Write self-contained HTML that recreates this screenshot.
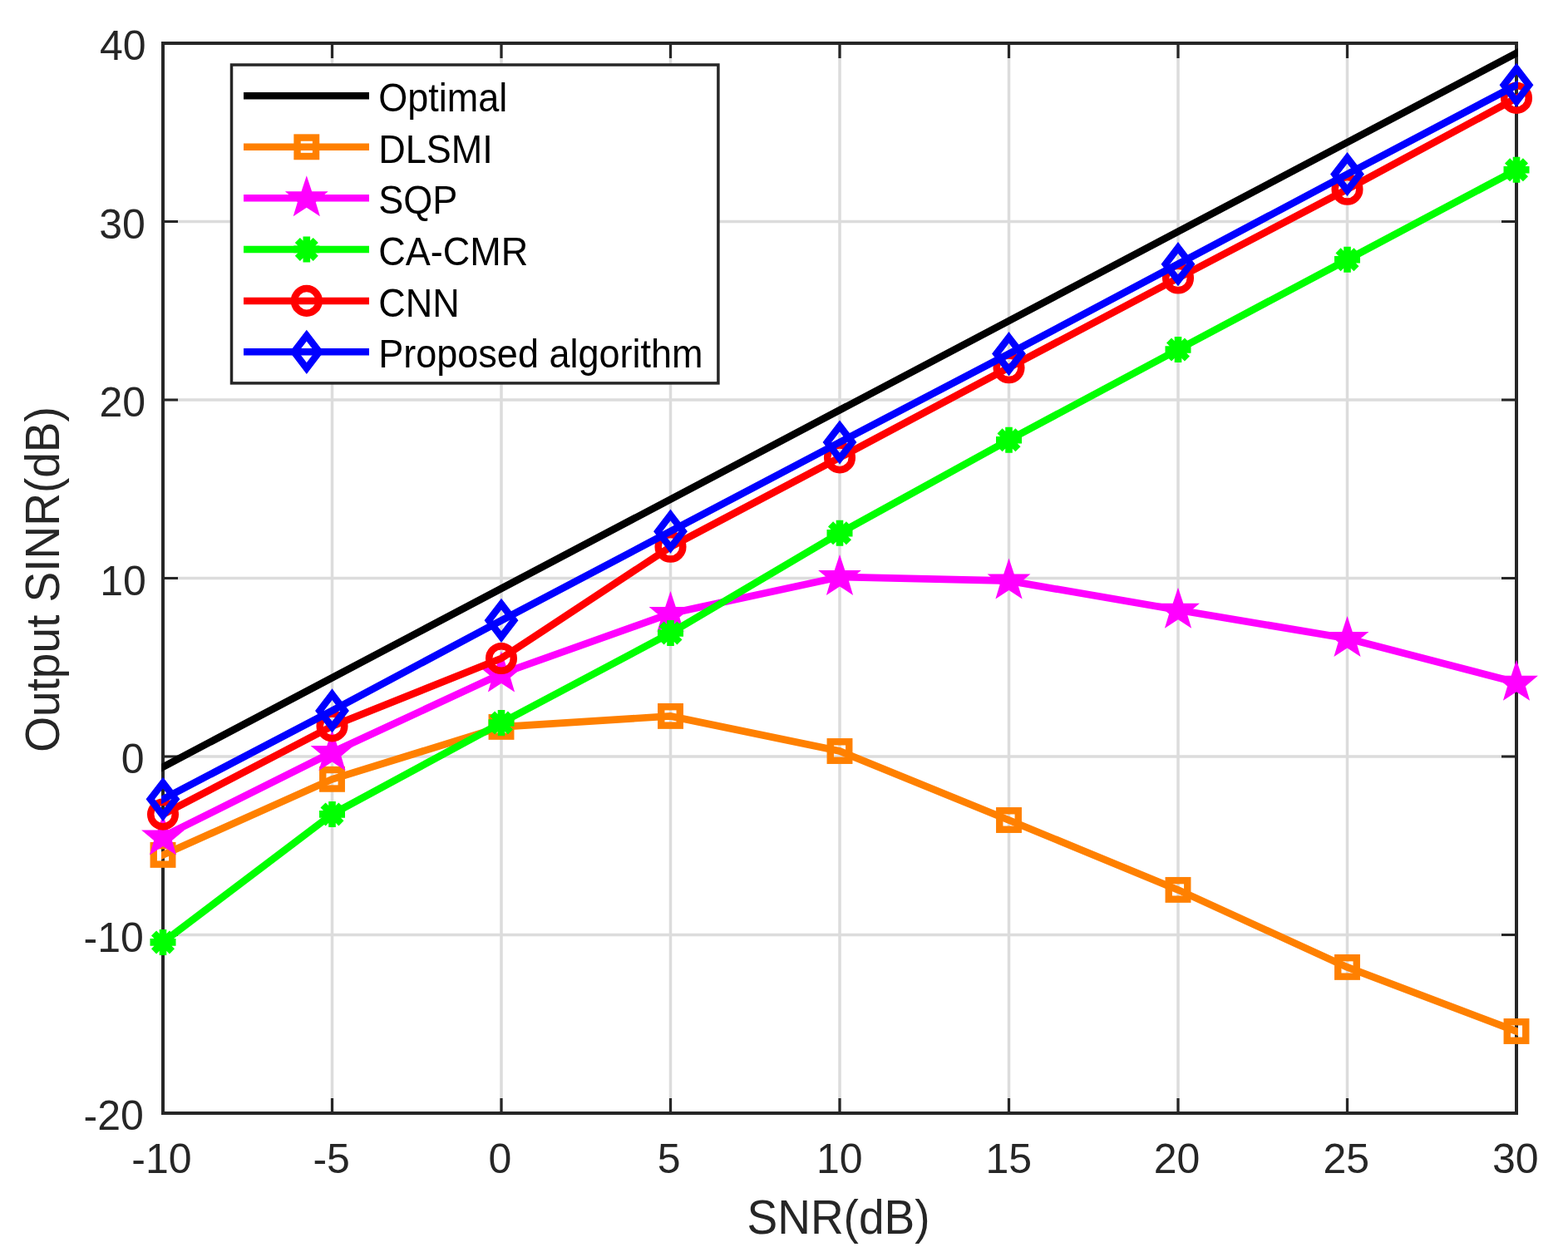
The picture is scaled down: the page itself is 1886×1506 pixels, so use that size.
<!DOCTYPE html><html><head><meta charset="utf-8"><title>Output SINR vs SNR</title><style>html,body{margin:0;padding:0;background:#fff;overflow:hidden;width:1886px;height:1506px;}svg{display:block;}text{font-family:"Liberation Sans",Arial,Helvetica,sans-serif;fill:#262626;}</style></head><body>
<svg width="1886" height="1506" viewBox="0 0 1886 1506">
<rect width="1886" height="1506" fill="#fff"/>
<defs><clipPath id="ax"><rect x="194" y="50" width="1632" height="1291"/></clipPath></defs>
<path d="M399.5 52V1339M603 52V1339M806.5 52V1339M1010 52V1339M1213.5 52V1339M1417 52V1339M1620.5 52V1339M196 1124.5H1824M196 910H1824M196 695.5H1824M196 481H1824M196 266.5H1824" stroke="#dcdcdc" stroke-width="3.5" fill="none"/>
<path d="M399.5 1339V1321M399.5 52V70M603 1339V1321M603 52V70M806.5 1339V1321M806.5 52V70M1010 1339V1321M1010 52V70M1213.5 1339V1321M1213.5 52V70M1417 1339V1321M1417 52V70M1620.5 1339V1321M1620.5 52V70M196 1124.5H214M1824 1124.5H1806M196 910H214M1824 910H1806M196 695.5H214M1824 695.5H1806M196 481H214M1824 481H1806M196 266.5H214M1824 266.5H1806" stroke="#262626" stroke-width="3.2" fill="none"/>
<rect x="196" y="52" width="1628" height="1287" fill="none" stroke="#262626" stroke-width="4"/>
<text x="194.4" y="1411.3" font-size="50" text-anchor="middle">-10</text>
<text x="398.7" y="1411.3" font-size="50" text-anchor="middle">-5</text>
<text x="601.35" y="1411.3" font-size="50" text-anchor="middle">0</text>
<text x="804.65" y="1411.3" font-size="50" text-anchor="middle">5</text>
<text x="1009.8" y="1411.3" font-size="50" text-anchor="middle">10</text>
<text x="1213.2" y="1411.3" font-size="50" text-anchor="middle">15</text>
<text x="1415.5" y="1411.3" font-size="50" text-anchor="middle">20</text>
<text x="1619.35" y="1411.3" font-size="50" text-anchor="middle">25</text>
<text x="1822.75" y="1411.3" font-size="50" text-anchor="middle">30</text>
<text x="172.85" y="1359.4" font-size="50" text-anchor="end">-20</text>
<text x="172.85" y="1144.9" font-size="50" text-anchor="end">-10</text>
<text x="173.5" y="930.4" font-size="50" text-anchor="end">0</text>
<text x="175.9" y="715.9" font-size="50" text-anchor="end">10</text>
<text x="175.2" y="501.4" font-size="50" text-anchor="end">20</text>
<text x="174.95" y="286.9" font-size="50" text-anchor="end">30</text>
<text x="175.55" y="72.4" font-size="50" text-anchor="end">40</text>
<text transform="translate(1008.5 1484) scale(1 1.04)" font-size="55" text-anchor="middle">SNR(dB)</text>
<text transform="translate(71 697) rotate(-90) scale(1 1.04)" font-size="55" text-anchor="middle">Output SINR(dB)</text>
<g clip-path="url(#ax)">
<line x1="196" y1="922.6" x2="1824" y2="63.9" stroke="#000" stroke-width="8.7" stroke-linecap="square"/>
</g>
<g clip-path="url(#ax)"><polyline points="196,1028.4 399.5,937.3 603,874.4 806.5,861.4 1010,903.5 1213.5,986.5 1417,1070.4 1620.5,1163.4 1824,1240.5" fill="none" stroke="#ff8000" stroke-width="8.7" stroke-linejoin="miter" stroke-linecap="square"/></g>
<g><rect x="184.75" y="1017.15" width="22.5" height="22.5" fill="none" stroke="#ff8000" stroke-width="8.4"/><rect x="388.25" y="926.05" width="22.5" height="22.5" fill="none" stroke="#ff8000" stroke-width="8.4"/><rect x="591.75" y="863.15" width="22.5" height="22.5" fill="none" stroke="#ff8000" stroke-width="8.4"/><rect x="795.25" y="850.15" width="22.5" height="22.5" fill="none" stroke="#ff8000" stroke-width="8.4"/><rect x="998.75" y="892.25" width="22.5" height="22.5" fill="none" stroke="#ff8000" stroke-width="8.4"/><rect x="1202.25" y="975.25" width="22.5" height="22.5" fill="none" stroke="#ff8000" stroke-width="8.4"/><rect x="1405.75" y="1059.15" width="22.5" height="22.5" fill="none" stroke="#ff8000" stroke-width="8.4"/><rect x="1609.25" y="1152.15" width="22.5" height="22.5" fill="none" stroke="#ff8000" stroke-width="8.4"/><rect x="1812.75" y="1229.25" width="22.5" height="22.5" fill="none" stroke="#ff8000" stroke-width="8.4"/></g>
<g clip-path="url(#ax)"><polyline points="196,1006.5 399.5,905 603,810.5 806.5,738 1010,694 1213.5,698.7 1417,733.8 1620.5,768 1824,820.9" fill="none" stroke="#ff00ff" stroke-width="8.7" stroke-linejoin="miter" stroke-linecap="square"/></g>
<g><polygon points="196,979.4 202.3,998.4 221.9,998.4 206.9,1011.1 212.1,1028.4 196,1017.9 179.9,1028.4 185.1,1011.1 170.1,998.4 189.7,998.4" fill="#ff00ff"/><polygon points="399.5,877.9 405.8,896.9 425.4,896.9 410.4,909.6 415.6,926.9 399.5,916.4 383.4,926.9 388.6,909.6 373.6,896.9 393.2,896.9" fill="#ff00ff"/><polygon points="603,783.4 609.3,802.4 628.9,802.4 613.9,815.1 619.1,832.4 603,821.9 586.9,832.4 592.1,815.1 577.1,802.4 596.7,802.4" fill="#ff00ff"/><polygon points="806.5,710.9 812.8,729.9 832.4,729.9 817.4,742.6 822.6,759.9 806.5,749.4 790.4,759.9 795.6,742.6 780.6,729.9 800.2,729.9" fill="#ff00ff"/><polygon points="1010,666.9 1016.3,685.9 1035.9,685.9 1020.9,698.6 1026.1,715.9 1010,705.4 993.9,715.9 999.1,698.6 984.1,685.9 1003.7,685.9" fill="#ff00ff"/><polygon points="1213.5,671.6 1219.8,690.6 1239.4,690.6 1224.4,703.3 1229.6,720.6 1213.5,710.1 1197.4,720.6 1202.6,703.3 1187.6,690.6 1207.2,690.6" fill="#ff00ff"/><polygon points="1417,706.7 1423.3,725.7 1442.9,725.7 1427.9,738.4 1433.1,755.7 1417,745.2 1400.9,755.7 1406.1,738.4 1391.1,725.7 1410.7,725.7" fill="#ff00ff"/><polygon points="1620.5,740.9 1626.8,759.9 1646.4,759.9 1631.4,772.6 1636.6,789.9 1620.5,779.4 1604.4,789.9 1609.6,772.6 1594.6,759.9 1614.2,759.9" fill="#ff00ff"/><polygon points="1824,793.8 1830.3,812.8 1849.9,812.8 1834.9,825.5 1840.1,842.8 1824,832.3 1807.9,842.8 1813.1,825.5 1798.1,812.8 1817.7,812.8" fill="#ff00ff"/></g>
<g clip-path="url(#ax)"><polyline points="196,1133.4 399.5,979.4 603,869.5 806.5,761.5 1010,641.3 1213.5,529.3 1417,420.5 1620.5,312.3 1824,204.3" fill="none" stroke="#00ff00" stroke-width="8.7" stroke-linejoin="miter" stroke-linecap="square"/></g>
<g><path d="M180.5 1133.4L211.5 1133.4M185.04 1122.44L206.96 1144.36M196 1117.9L196 1148.9M206.96 1122.44L185.04 1144.36" stroke="#00ff00" stroke-width="8.6" fill="none"/><path d="M384 979.4L415 979.4M388.54 968.44L410.46 990.36M399.5 963.9L399.5 994.9M410.46 968.44L388.54 990.36" stroke="#00ff00" stroke-width="8.6" fill="none"/><path d="M587.5 869.5L618.5 869.5M592.04 858.54L613.96 880.46M603 854L603 885M613.96 858.54L592.04 880.46" stroke="#00ff00" stroke-width="8.6" fill="none"/><path d="M791 761.5L822 761.5M795.54 750.54L817.46 772.46M806.5 746L806.5 777M817.46 750.54L795.54 772.46" stroke="#00ff00" stroke-width="8.6" fill="none"/><path d="M994.5 641.3L1025.5 641.3M999.04 630.34L1020.96 652.26M1010 625.8L1010 656.8M1020.96 630.34L999.04 652.26" stroke="#00ff00" stroke-width="8.6" fill="none"/><path d="M1198 529.3L1229 529.3M1202.54 518.34L1224.46 540.26M1213.5 513.8L1213.5 544.8M1224.46 518.34L1202.54 540.26" stroke="#00ff00" stroke-width="8.6" fill="none"/><path d="M1401.5 420.5L1432.5 420.5M1406.04 409.54L1427.96 431.46M1417 405L1417 436M1427.96 409.54L1406.04 431.46" stroke="#00ff00" stroke-width="8.6" fill="none"/><path d="M1605 312.3L1636 312.3M1609.54 301.34L1631.46 323.26M1620.5 296.8L1620.5 327.8M1631.46 301.34L1609.54 323.26" stroke="#00ff00" stroke-width="8.6" fill="none"/><path d="M1808.5 204.3L1839.5 204.3M1813.04 193.34L1834.96 215.26M1824 188.8L1824 219.8M1834.96 193.34L1813.04 215.26" stroke="#00ff00" stroke-width="8.6" fill="none"/></g>
<g clip-path="url(#ax)"><polyline points="196,979.6 399.5,873.4 603,792 806.5,657.8 1010,550.4 1213.5,442.2 1417,334.5 1620.5,227.7 1824,117.9" fill="none" stroke="#ff0000" stroke-width="8.7" stroke-linejoin="miter" stroke-linecap="square"/></g>
<g><circle cx="196" cy="979.6" r="14.8" fill="none" stroke="#ff0000" stroke-width="8.5"/><circle cx="399.5" cy="873.4" r="14.8" fill="none" stroke="#ff0000" stroke-width="8.5"/><circle cx="603" cy="792" r="14.8" fill="none" stroke="#ff0000" stroke-width="8.5"/><circle cx="806.5" cy="657.8" r="14.8" fill="none" stroke="#ff0000" stroke-width="8.5"/><circle cx="1010" cy="550.4" r="14.8" fill="none" stroke="#ff0000" stroke-width="8.5"/><circle cx="1213.5" cy="442.2" r="14.8" fill="none" stroke="#ff0000" stroke-width="8.5"/><circle cx="1417" cy="334.5" r="14.8" fill="none" stroke="#ff0000" stroke-width="8.5"/><circle cx="1620.5" cy="227.7" r="14.8" fill="none" stroke="#ff0000" stroke-width="8.5"/><circle cx="1824" cy="117.9" r="14.8" fill="none" stroke="#ff0000" stroke-width="8.5"/></g>
<g clip-path="url(#ax)"><polyline points="196,961.3 399.5,854.9 603,746.3 806.5,639.2 1010,532 1213.5,425.6 1417,317.7 1620.5,209.5 1824,102.3" fill="none" stroke="#0000ff" stroke-width="8.7" stroke-linejoin="miter" stroke-linecap="square"/></g>
<g><polygon points="196,941.65 211.1,961.3 196,980.95 180.9,961.3" fill="none" stroke="#0000ff" stroke-width="8.45" stroke-linejoin="miter" stroke-miterlimit="10"/><polygon points="399.5,835.25 414.6,854.9 399.5,874.55 384.4,854.9" fill="none" stroke="#0000ff" stroke-width="8.45" stroke-linejoin="miter" stroke-miterlimit="10"/><polygon points="603,726.65 618.1,746.3 603,765.95 587.9,746.3" fill="none" stroke="#0000ff" stroke-width="8.45" stroke-linejoin="miter" stroke-miterlimit="10"/><polygon points="806.5,619.55 821.6,639.2 806.5,658.85 791.4,639.2" fill="none" stroke="#0000ff" stroke-width="8.45" stroke-linejoin="miter" stroke-miterlimit="10"/><polygon points="1010,512.35 1025.1,532 1010,551.65 994.9,532" fill="none" stroke="#0000ff" stroke-width="8.45" stroke-linejoin="miter" stroke-miterlimit="10"/><polygon points="1213.5,405.95 1228.6,425.6 1213.5,445.25 1198.4,425.6" fill="none" stroke="#0000ff" stroke-width="8.45" stroke-linejoin="miter" stroke-miterlimit="10"/><polygon points="1417,298.05 1432.1,317.7 1417,337.35 1401.9,317.7" fill="none" stroke="#0000ff" stroke-width="8.45" stroke-linejoin="miter" stroke-miterlimit="10"/><polygon points="1620.5,189.85 1635.6,209.5 1620.5,229.15 1605.4,209.5" fill="none" stroke="#0000ff" stroke-width="8.45" stroke-linejoin="miter" stroke-miterlimit="10"/><polygon points="1824,82.65 1839.1,102.3 1824,121.95 1808.9,102.3" fill="none" stroke="#0000ff" stroke-width="8.45" stroke-linejoin="miter" stroke-miterlimit="10"/></g>
<rect x="278.5" y="78" width="585.4" height="382.9" fill="#fff" stroke="#262626" stroke-width="3.5"/>
<line x1="293" y1="115.3" x2="444" y2="115.3" stroke="#000" stroke-width="8.45"/>
<text transform="translate(455.3 134.1) scale(1 1.07)" font-size="45" style="fill:#000">Optimal</text>
<line x1="293" y1="176.8" x2="444" y2="176.8" stroke="#ff8000" stroke-width="8.45"/>
<rect x="357.55" y="165.55" width="22.5" height="22.5" fill="none" stroke="#ff8000" stroke-width="8.4"/>
<text transform="translate(455.3 195.6) scale(1 1.07)" font-size="45" style="fill:#000">DLSMI</text>
<line x1="293" y1="238.3" x2="444" y2="238.3" stroke="#ff00ff" stroke-width="8.45"/>
<polygon points="368.8,211.2 375.1,230.2 394.7,230.2 379.7,242.9 384.9,260.2 368.8,249.7 352.7,260.2 357.9,242.9 342.9,230.2 362.5,230.2" fill="#ff00ff"/>
<text transform="translate(455.3 257.1) scale(1 1.07)" font-size="45" style="fill:#000">SQP</text>
<line x1="293" y1="299.9" x2="444" y2="299.9" stroke="#00ff00" stroke-width="8.45"/>
<path d="M353.3 299.9L384.3 299.9M357.84 288.94L379.76 310.86M368.8 284.4L368.8 315.4M379.76 288.94L357.84 310.86" stroke="#00ff00" stroke-width="8.6" fill="none"/>
<text transform="translate(455.3 318.7) scale(1 1.07)" font-size="45" style="fill:#000">CA-CMR</text>
<line x1="293" y1="361.9" x2="444" y2="361.9" stroke="#ff0000" stroke-width="8.45"/>
<circle cx="368.8" cy="361.9" r="14.8" fill="none" stroke="#ff0000" stroke-width="8.5"/>
<text transform="translate(455.3 380.7) scale(1 1.07)" font-size="45" style="fill:#000">CNN</text>
<line x1="293" y1="423.3" x2="444" y2="423.3" stroke="#0000ff" stroke-width="8.45"/>
<polygon points="368.8,403.65 383.9,423.3 368.8,442.95 353.7,423.3" fill="none" stroke="#0000ff" stroke-width="8.45" stroke-linejoin="miter" stroke-miterlimit="10"/>
<text transform="translate(455.3 442.1) scale(1 1.07)" font-size="45" style="fill:#000">Proposed algorithm</text>
</svg></body></html>
